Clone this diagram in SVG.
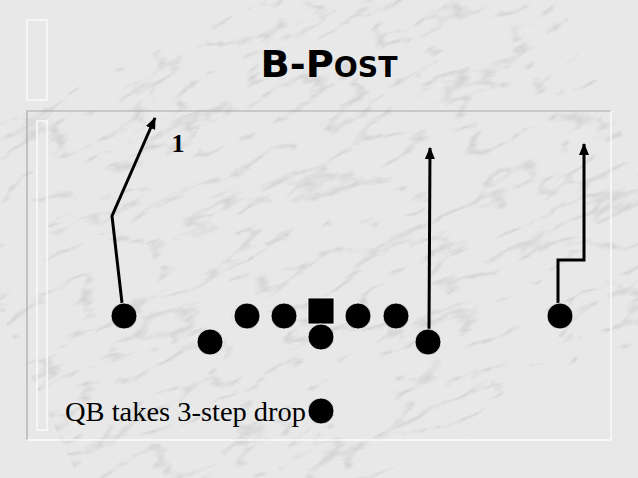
<svg xmlns="http://www.w3.org/2000/svg" width="638" height="478" viewBox="0 0 638 478">
<defs>
<filter id="marble" x="0" y="0" width="100%" height="100%" filterUnits="userSpaceOnUse">
<feTurbulence type="turbulence" baseFrequency="0.012 0.035" numOctaves="4" seed="7" result="t"/>
<feColorMatrix in="t" type="matrix" values="0 0 0 0 0.45  0 0 0 0 0.45  0 0 0 0 0.47  -2.2 0 0 0 0.45"/>
</filter>
<marker id="arr" viewBox="0 0 12 10" refX="11" refY="5" markerWidth="12" markerHeight="10" markerUnits="userSpaceOnUse" orient="auto">
<path d="M0,0 L12,5 L0,10 Z" fill="#000"/>
</marker>
<style>
.route{fill:none;stroke:#000;stroke-width:3;stroke-linejoin:miter}
.p{fill:#000;stroke:#fff;stroke-width:0.8}
.serif{font-family:"Liberation Serif","Times New Roman",serif;fill:#000}
.frameW{fill:none;stroke:#fafafa;stroke-width:1.5}
.frameG{fill:none;stroke:#a8a8a8;stroke-width:1.2}
</style>
</defs>
<g id="background">
<rect x="0" y="0" width="638" height="478" fill="#e8e8e8"/>
<g transform="rotate(-25 319 239)">
<rect x="-200" y="-200" width="1040" height="880" fill="#000" filter="url(#marble)"/>
</g>
</g>
<g id="frame">
<rect class="frameW" x="27" y="20" width="20" height="80"/>
<path class="frameG" d="M27,440 L27,111 L611,111"/>
<path class="frameW" d="M611,111 L611,440 L27,440"/>
<rect class="frameW" x="37" y="121" width="10" height="309"/>
</g>
<g id="title">
<text x="329" y="77" text-anchor="middle" font-family="DejaVu Sans, Verdana, sans-serif" font-weight="bold" fill="#000" textLength="137" lengthAdjust="spacingAndGlyphs"><tspan font-size="38">B-P</tspan><tspan font-size="28">OST</tspan></text>
</g>
<g id="connectors">
<polyline class="route" points="122,303 112,216 155,118" marker-end="url(#arr)"/>
<line class="route" x1="429" y1="330" x2="430" y2="148" marker-end="url(#arr)"/>
<polyline class="route" points="558,303 558,260 584,260 584,144" marker-end="url(#arr)"/>
</g>
<g id="label-1"><text class="serif" x="178" y="152" font-size="26" font-weight="bold" text-anchor="middle">1</text></g>
<g id="wr-left"><circle class="p" cx="124" cy="316" r="13"/></g>
<g id="te-left"><circle class="p" cx="210" cy="342" r="13"/></g>
<g id="lt"><circle class="p" cx="247" cy="316" r="13"/></g>
<g id="lg"><circle class="p" cx="284" cy="316" r="13"/></g>
<g id="center"><rect class="p" x="308" y="298" width="26" height="26"/></g>
<g id="qb"><circle class="p" cx="321" cy="337" r="13"/></g>
<g id="rg"><circle class="p" cx="358" cy="316" r="13"/></g>
<g id="rt"><circle class="p" cx="396" cy="316" r="13"/></g>
<g id="slot"><circle class="p" cx="428" cy="342" r="13"/></g>
<g id="wr-right"><circle class="p" cx="560" cy="316" r="13"/></g>
<g id="note">
<text class="serif" x="65" y="421" font-size="28" textLength="241" lengthAdjust="spacingAndGlyphs">QB takes 3-step drop</text>
<circle class="p" cx="321" cy="411" r="13"/>
</g>
</svg>
